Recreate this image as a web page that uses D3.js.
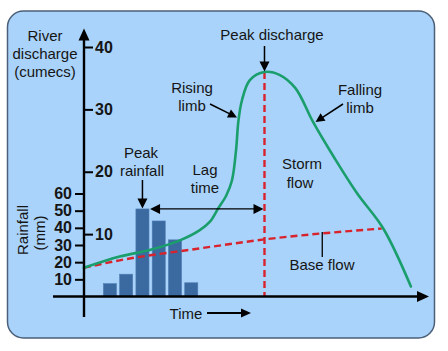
<!DOCTYPE html>
<html><head><meta charset="utf-8">
<script src="https://cdn.jsdelivr.net/npm/d3@7"></script>
<style>
html,body{margin:0;padding:0;background:#fff;}
svg{display:block;}
text{font-family:"Liberation Sans",Arial,sans-serif;fill:#151515;}
</style></head>
<body>
<script>
// ---- data ----
const rainTimes = [1, 2, 3, 4, 5, 6];               // hour slot starts
const rainValues = [7.5, 13, 51, 44, 33, 8];        // mm
const flowTimes = [-0.1, 2.1, 4.0, 5.8, 7.0, 7.65, 8.15, 8.65, 9.0, 9.25, 9.4, 9.62, 10.1, 11.0, 11.95, 12.9, 14.0, 15.3, 16.7, 18.3, 20.0];
const flowValues = [4.6, 6.4, 7.5, 9.0, 10.6, 12.0, 14.1, 16.2, 18.6, 23.4, 28.2, 31.5, 34.7, 36.0, 35.5, 33.4, 27.9, 22.2, 16.5, 10.9, 1.6];
const baseTimes = [-0.1, 2.1, 7.0, 11.0, 18.2];
const baseValues = [4.6, 5.8, 7.7, 9.15, 10.9];
const dischargeTicks = [10, 20, 30, 40];
const rainTicks = [10, 20, 30, 40, 50, 60];
const peakTime = 11;

const W = 448, H = 351;
const svg = d3.select("body").append("svg").attr("width", W).attr("height", H);

// background panel
svg.append("rect").attr("x", 7.5).attr("y", 11).attr("width", 427).attr("height", 327)
  .attr("rx", 16).attr("fill", "#a9d3fa").attr("stroke", "#4b5f78").attr("stroke-width", 1.5);

const axisX = 84, axisY = 296.5;
const x = d3.scaleLinear().domain([0, 21]).range([85.5, 427.2]);
const yQ = d3.scaleLinear().domain([0, 40]).range([axisY, 47]);
const yR = d3.scaleLinear().domain([0, 60]).range([axisY, 193.5]);

function tri(x2, y2, ang, len, half, color) {
  const c = Math.cos(ang), s = Math.sin(ang);
  const bx = x2 - c * len, by = y2 - s * len;
  svg.append("path").attr("d",
    `M${x2},${y2}L${bx - s * half},${by + c * half}L${bx + s * half},${by - c * half}Z`)
    .attr("fill", color);
}
function arrow(x1, y1, x2, y2, color, w, len, half) {
  const ang = Math.atan2(y2 - y1, x2 - x1);
  svg.append("line").attr("x1", x1).attr("y1", y1)
    .attr("x2", x2 - Math.cos(ang) * (len - 1)).attr("y2", y2 - Math.sin(ang) * (len - 1))
    .attr("stroke", color).attr("stroke-width", w);
  tri(x2, y2, ang, len, half, color);
}

// rainfall bars
svg.append("g").selectAll("rect").data(rainValues).join("rect")
  .attr("x", (d, i) => x(rainTimes[i]) + 1.6)
  .attr("width", (d, i) => x(rainTimes[i] + 1) - x(rainTimes[i]) - 3.2)
  .attr("y", d => yR(d))
  .attr("height", d => yR(0) - yR(d))
  .attr("fill", "#3b6aa1").attr("stroke", "#4f7db3").attr("stroke-width", 0.6);

// base flow (dashed)
const baseLine = d3.line().curve(d3.curveMonotoneX);
svg.append("path")
  .attr("d", baseLine(baseTimes.map((t, i) => [x(t), yQ(baseValues[i])])))
  .attr("fill", "none").attr("stroke", "#d8232c").attr("stroke-width", 2.4)
  .attr("stroke-dasharray", "7,4");

// peak vertical dashed line
svg.append("line").attr("x1", x(peakTime)).attr("x2", x(peakTime))
  .attr("y1", yQ(36)).attr("y2", axisY)
  .attr("stroke", "#d8232c").attr("stroke-width", 2.4).attr("stroke-dasharray", "7,4");

// discharge hydrograph
const flowLine = d3.line().curve(d3.curveCatmullRom.alpha(0.5));
svg.append("path")
  .attr("d", flowLine(flowTimes.map((t, i) => [x(t), yQ(flowValues[i])])))
  .attr("fill", "none").attr("stroke", "#1a9e6c").attr("stroke-width", 2.6)
  .attr("stroke-linejoin", "round").attr("stroke-linecap", "round");

// main axes
svg.append("line").attr("x1", axisX).attr("x2", axisX).attr("y1", 38).attr("y2", 317)
  .attr("stroke", "#000").attr("stroke-width", 2.4);
tri(axisX, 28.5, -Math.PI / 2, 12, 5.5, "#000");
svg.append("line").attr("x1", 53).attr("x2", 420).attr("y1", axisY).attr("y2", axisY)
  .attr("stroke", "#000").attr("stroke-width", 2.4);
tri(429, axisY, 0, 12, 5.5, "#000");

// discharge axis
const gQ = svg.append("g").attr("transform", `translate(${axisX},0)`)
  .call(d3.axisRight(yQ).tickValues(dischargeTicks).tickSize(9).tickPadding(2).tickFormat(d3.format("d")));
gQ.select(".domain").remove();
gQ.selectAll(".tick line").attr("stroke", "#000").attr("stroke-width", 2);
gQ.selectAll(".tick text").attr("font-family", "Liberation Sans, Arial, sans-serif")
  .attr("font-size", 16).attr("font-weight", "bold").attr("fill", "#111");

// rainfall axis
const gR = svg.append("g").attr("transform", `translate(${axisX},0)`)
  .call(d3.axisLeft(yR).tickValues(rainTicks).tickSize(9).tickPadding(3).tickFormat(d3.format("d")));
gR.select(".domain").remove();
gR.selectAll(".tick line").attr("stroke", "#000").attr("stroke-width", 2);
gR.selectAll(".tick text").attr("font-family", "Liberation Sans, Arial, sans-serif")
  .attr("font-size", 16).attr("font-weight", "bold").attr("fill", "#111");

// axis titles
function txt(xp, yp, s, size, anchor) {
  return svg.append("text").attr("x", xp).attr("y", yp).attr("font-size", size || 15)
    .attr("text-anchor", anchor || "middle").text(s);
}
txt(45, 41, "River");
txt(45, 59, "discharge");
txt(45, 77, "(cumecs)");
svg.append("text").attr("transform", "translate(28,230) rotate(-90)")
  .attr("font-size", 15).attr("text-anchor", "middle").text("Rainfall");
svg.append("text").attr("transform", "translate(45,233) rotate(-90)")
  .attr("font-size", 15).attr("text-anchor", "middle").text("(mm)");
txt(186, 318.5, "Time");
arrow(207, 313, 251, 313, "#000", 2, 10, 4.5);

// annotations
txt(272, 40, "Peak discharge");
arrow(x(peakTime), 46, x(peakTime), yQ(36) - 0.5, "#000", 1.5, 10, 5);

txt(192, 93, "Rising");
txt(192, 111, "limb");
arrow(210, 104, 237, 117.5, "#000", 1.5, 9, 4.5);

txt(360, 95, "Falling");
txt(360, 113, "limb");
arrow(343, 104, 315.5, 122, "#000", 1.5, 9, 4.5);

txt(141, 158, "Peak");
txt(142, 176, "rainfall");
arrow(x(3.5), 180, x(3.5), yR(51) - 0.5, "#000", 1.5, 10, 5);

txt(205, 175, "Lag");
txt(205, 193, "time");
const lagY = yR(51);
svg.append("line").attr("x1", x(4) + 9).attr("x2", x(peakTime) - 9).attr("y1", lagY).attr("y2", lagY)
  .attr("stroke", "#000").attr("stroke-width", 1.3);
tri(x(4) - 0.5, lagY, Math.PI, 10, 5, "#000");
tri(x(peakTime) - 1, lagY, 0, 10, 5, "#000");

txt(302, 169, "Storm");
txt(300, 188, "flow");

txt(322, 270, "Base flow");
svg.append("line").attr("x1", x(14.55)).attr("x2", x(14.55)).attr("y1", 232).attr("y2", 257)
  .attr("stroke", "#000").attr("stroke-width", 1.3);
</script>
</body></html>
